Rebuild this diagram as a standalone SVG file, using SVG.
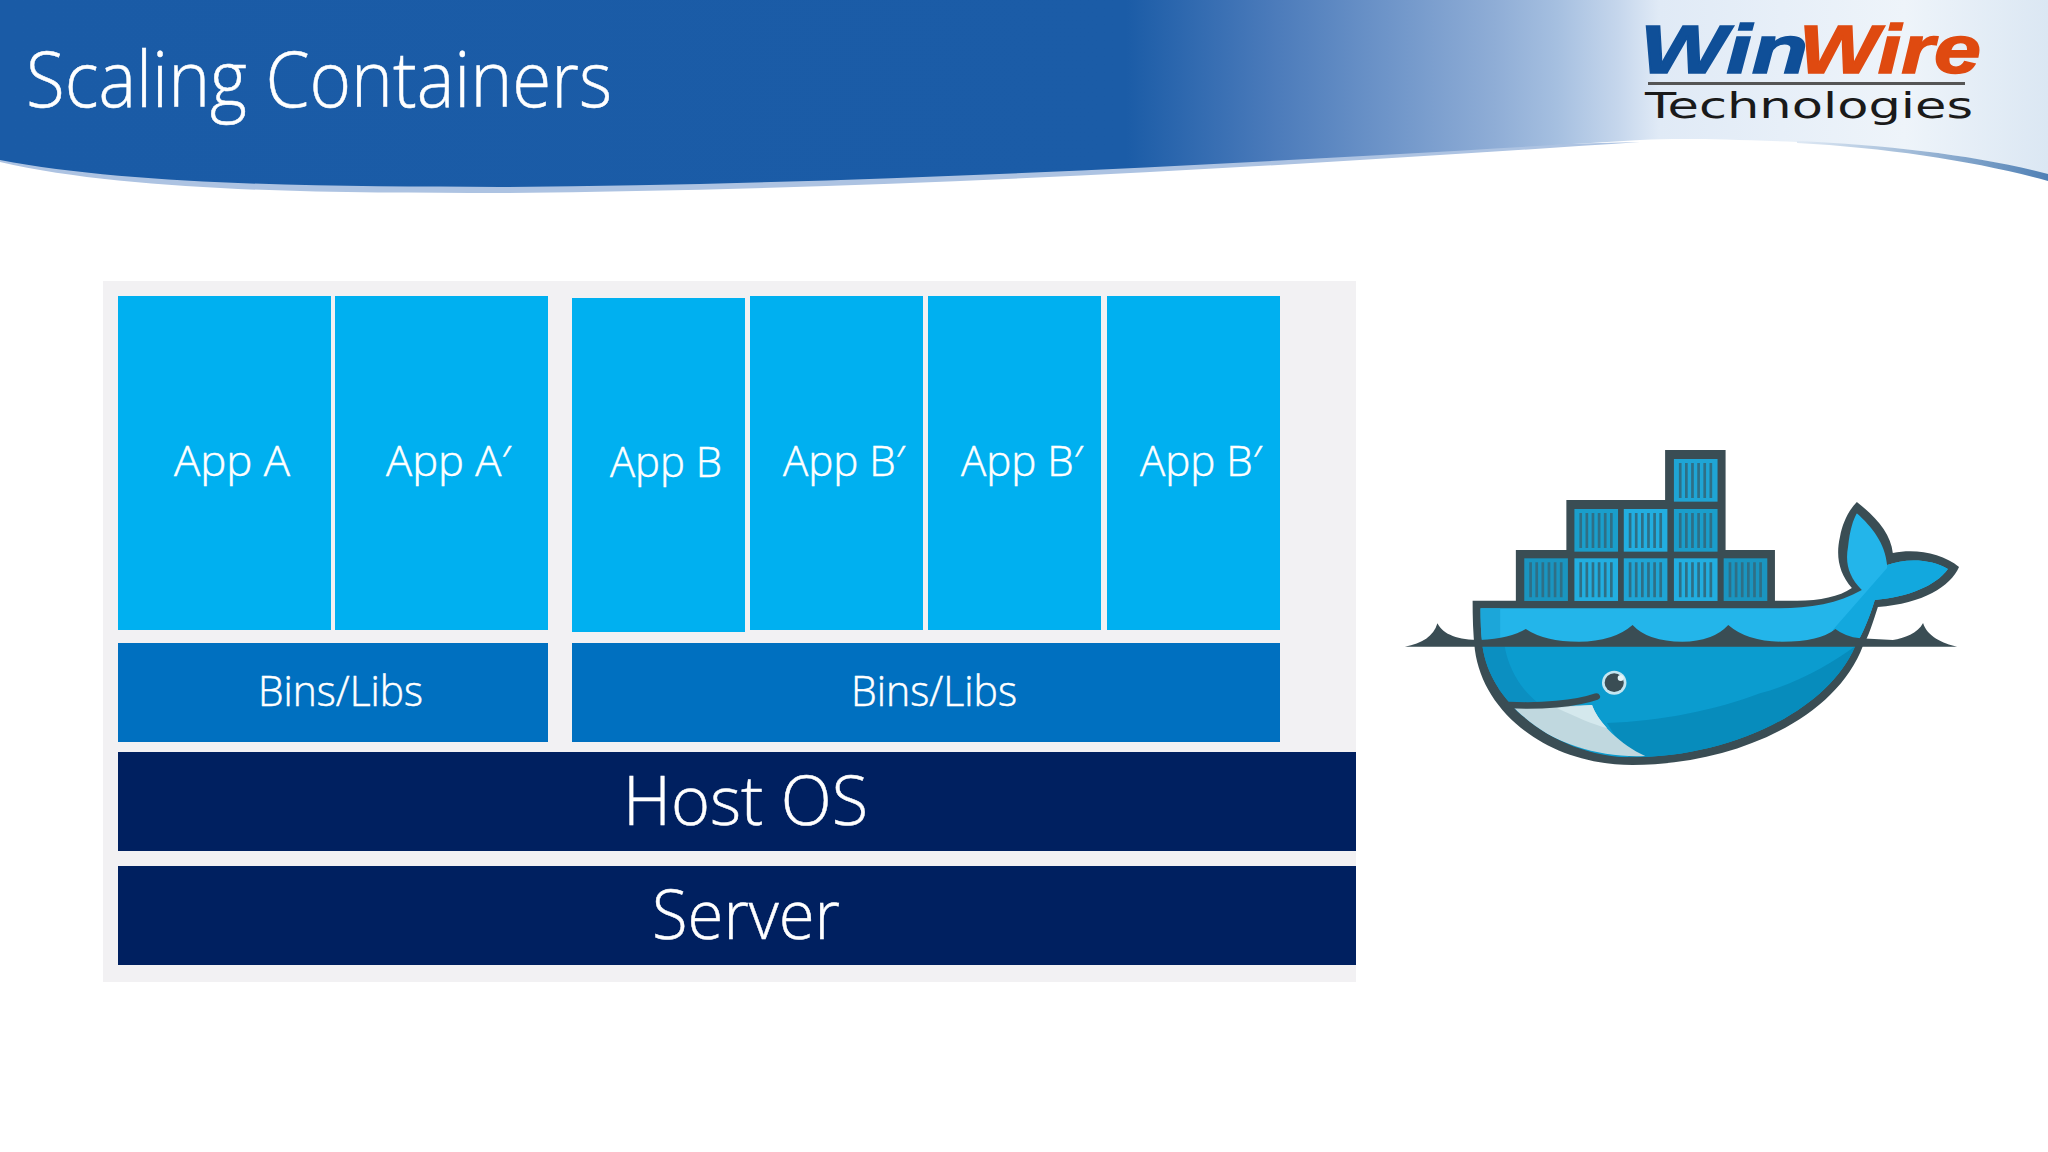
<svg xmlns="http://www.w3.org/2000/svg" width="2048" height="1152" viewBox="0 0 2048 1152">
<style>
text{font-family:"Open Sans","Noto Sans","Liberation Sans",sans-serif;fill:#fff;font-weight:300;stroke:#fff;stroke-width:.5px}
.app{fill:#00b0f0}.bins{fill:#0070c0}.base{fill:#002060}
.l42{font-size:42px}.l68{font-size:68px}
.dk{fill:#3a4d54}
</style>
<defs>
<linearGradient id="hg" x1="0" x2="2048" y1="0" y2="0" gradientUnits="userSpaceOnUse">
<stop offset="0" stop-color="#1a5ba6"/><stop offset="0.55" stop-color="#1b5ca7"/><stop offset="0.62" stop-color="#4a7aba"/><stop offset="0.73" stop-color="#8fadd6"/><stop offset="0.76" stop-color="#a5bfe0"/><stop offset="0.79" stop-color="#c5d6ec"/><stop offset="0.81" stop-color="#e0eaf6"/><stop offset="0.93" stop-color="#eef4fa"/><stop offset="1" stop-color="#dbe7f3"/>
</linearGradient>
<linearGradient id="sw" x1="1790" x2="2048" y1="0" y2="0" gradientUnits="userSpaceOnUse">
<stop offset="0" stop-color="#e3ecf6"/><stop offset="0.5" stop-color="#9db8d6"/><stop offset="1" stop-color="#4f80b5"/>
</linearGradient>
<g id="box">
<rect width="114" height="128"/>
<path d="M13 12h7v105h-7zM29 12h7v105h-7zM45 12h7v105h-7zM61 12h7v105h-7zM77 12h7v105h-7zM93 12h7v105h-7z" fill="#2f6f86"/>
</g>
<clipPath id="bodyclip"><path d="M262 535H1045C1120 535 1200 520 1259 480C1225 440 1215 400 1223 350C1228 300 1236 270 1246 250C1285 290 1320 340 1325 405C1370 385 1440 385 1484 417C1450 470 1380 500 1293 510C1280 560 1260 615 1241 650C1165 850 905 982 660 982C470 982 290 830 268 650C264 610 262 570 262 535Z"/></clipPath>
</defs>
<rect width="2048" height="1152" fill="#fff"/>
<g id="header">
<path d="M0 162C130 192 330 193 500 193C900 190 1300 165 1640 142C1300 150 900 170 500 170C330 170 130 170 0 155Z" fill="#adc3e2"/>
<path d="M0 0H2048V176C1980 155 1890 145 1797 142C1720 139 1680 138 1640 140C1300 160 900 184 500 187C330 187 130 185 0 160Z" fill="url(#hg)"/>
<path d="M1797 141C1890 145 1980 156 2048 174V181C1980 162 1890 148 1797 143Z" fill="url(#sw)"/>
<text id="title" x="26" y="107" font-size="78" textLength="586" lengthAdjust="spacingAndGlyphs">Scaling Containers</text>
</g>
<g id="logo">
<text x="1640" y="73" style="font-family:'Liberation Sans',Arial,sans-serif;font-weight:700;font-style:italic;fill:#0f4f98;stroke:#0f4f98;stroke-width:1.5px" font-size="68" textLength="168" lengthAdjust="spacingAndGlyphs">Win</text>
<text x="1799" y="73" style="font-family:'Liberation Sans',Arial,sans-serif;font-weight:700;font-style:italic;fill:#df4a10;stroke:#df4a10;stroke-width:1.5px" font-size="68" textLength="182" lengthAdjust="spacingAndGlyphs">Wire</text>
<rect x="1648" y="82" width="317" height="3" fill="#555"/>
<text x="1645" y="118" style="font-family:'DejaVu Sans',sans-serif;font-weight:400;fill:#1a1a1a;stroke:none" font-size="36" textLength="328" lengthAdjust="spacingAndGlyphs">Technologies</text>
</g>
<rect id="panel" x="103" y="281" width="1253" height="701" fill="#f2f1f3"/>
<g id="app-a"><rect class="app" x="118" y="296" width="213" height="334"/><text class="l42" x="174" y="476" textLength="116" lengthAdjust="spacingAndGlyphs">App A</text></g>
<g id="app-a-prime"><rect class="app" x="335" y="296" width="213" height="334"/><text class="l42" x="386" y="476" textLength="125" lengthAdjust="spacingAndGlyphs">App A′</text></g>
<g id="app-b"><rect class="app" x="572" y="298" width="173" height="334"/><text class="l42" x="610" y="477" textLength="112" lengthAdjust="spacingAndGlyphs">App B</text></g>
<g id="app-b-prime-1"><rect class="app" x="750" y="296" width="173" height="334"/><text class="l42" x="783" y="476" textLength="122" lengthAdjust="spacingAndGlyphs">App B′</text></g>
<g id="app-b-prime-2"><rect class="app" x="928" y="296" width="173" height="334"/><text class="l42" x="961" y="476" textLength="122" lengthAdjust="spacingAndGlyphs">App B′</text></g>
<g id="app-b-prime-3"><rect class="app" x="1107" y="296" width="173" height="334"/><text class="l42" x="1140" y="476" textLength="122" lengthAdjust="spacingAndGlyphs">App B′</text></g>
<g id="bins-a"><rect class="bins" x="118" y="643" width="430" height="99"/><text class="l42" x="258" y="706" textLength="165" lengthAdjust="spacingAndGlyphs">Bins/Libs</text></g>
<g id="bins-b"><rect class="bins" x="572" y="643" width="708" height="99"/><text class="l42" x="851" y="706" textLength="166" lengthAdjust="spacingAndGlyphs">Bins/Libs</text></g>
<g id="host-os"><rect class="base" x="118" y="752" width="1238" height="99"/><text class="l68" x="623" y="825" textLength="245" lengthAdjust="spacingAndGlyphs">Host OS</text></g>
<g id="server"><rect class="base" x="118" y="866" width="1238" height="99"/><text class="l68" x="652" y="939" textLength="188" lengthAdjust="spacingAndGlyphs">Server</text></g>
<g id="whale" transform="translate(1380 430) scale(0.3827 0.3333)">
<path class="dk" d="M355 360H487V210H745V60H903V360H1032V512H1090C1150 512 1200 500 1233 474C1200 430 1190 380 1202 320C1208 280 1225 240 1246 216C1295 260 1335 310 1340 369C1400 355 1470 370 1513 411C1490 470 1420 520 1301 531C1290 570 1275 625 1262 647C1190 870 920 1005 660 1005C440 1005 270 850 248 660C243 610 242 560 242 512H355Z"/>
<use href="#box" x="377" y="385" fill="#1a95c0"/><use href="#box" x="508" y="385" fill="#22aee0"/><use href="#box" x="637" y="385" fill="#1fa5d5"/><use href="#box" x="768" y="385" fill="#22aee0"/><use href="#box" x="898" y="385" fill="#1a95c0"/>
<use href="#box" x="508" y="237" fill="#1a9ecb"/><use href="#box" x="637" y="237" fill="#22aee0"/><use href="#box" x="768" y="237" fill="#1a9ecb"/><use href="#box" x="768" y="87" fill="#1fa5d5"/>
<g clip-path="url(#bodyclip)">
<rect x="240" y="230" width="1300" height="420" fill="#23b5ea"/>
<rect x="262" y="535" width="52" height="100" fill="#1ca6d9"/>
<path d="M1325 414L1183 600L1270 650L1520 520V380H1325Z" fill="#12a8de"/>
<rect x="240" y="650" width="1100" height="360" fill="#0b9ccf"/>
<path d="M240 650H326C335 710 365 775 410 816L330 900Z" fill="#0b8fc1"/>
<path d="M1240 650C1180 700 1090 760 993 790C880 840 730 875 593 879L660 1000C1000 1000 1200 800 1300 650Z" fill="#078cbc"/>
<path d="M340 834L554 825C570 880 630 945 693 978C560 985 430 930 340 834Z" fill="#c0d8df"/>
<path d="M462 834L554 825C562 850 575 870 593 894C560 885 510 860 462 834Z" fill="#d4e8ed"/>
</g>
<path class="dk" d="M65 650C110 640 140 620 150 580C165 615 205 630 262 630Q340 625 381 597Q430 635 520 635Q610 635 660 585Q700 635 790 635Q870 635 910 585Q960 635 1050 635Q1150 635 1190 597Q1215 620 1255 625L1340 630C1370 625 1405 610 1419 579C1430 620 1470 640 1508 650Z"/>
<path d="M335 825C420 830 510 822 565 800" fill="none" stroke="#3a4d54" stroke-width="20" stroke-linecap="round"/>
<ellipse cx="612" cy="758" rx="32" ry="36" fill="#c4e6f1"/>
<ellipse cx="612" cy="758" rx="25" ry="28" fill="#3a4d54"/>
<ellipse cx="629" cy="744" rx="8" ry="9" fill="#e4f4f8"/>
</g>
</svg>
